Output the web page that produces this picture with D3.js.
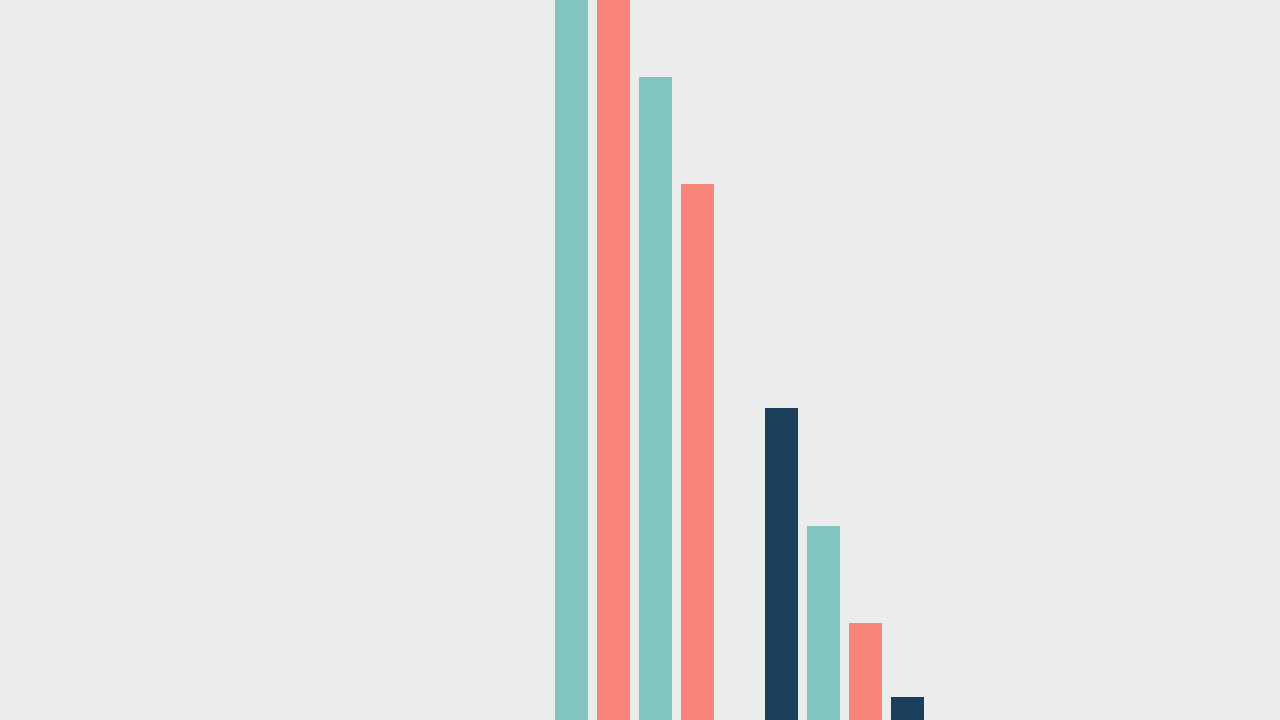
<!DOCTYPE html>
<html>
<head>
<meta charset="utf-8">
<script src="https://cdn.jsdelivr.net/npm/d3@7"></script>
<style>
html,body{margin:0;padding:0;background:#ebedec;overflow:hidden;}
svg{display:block;}
</style>
</head>
<body>
<svg id="chart" width="1280" height="720"></svg>
<script>
// Data (arbitrary units; first two bars run off the top)
const categories = ["A","B","C","D","E","F","G","H","I"];
const values = [770, 770, 643, 536, 0, 312, 194, 97, 23];
const series = ["teal","salmon","teal","salmon","navy","navy","teal","salmon","navy"];
const palette = {teal:"#82c4c0", salmon:"#f8847a", navy:"#1b3e5a"};

const W = 1280, H = 720;
const svg = d3.select("#chart");
svg.append("rect").attr("width", W).attr("height", H).attr("fill", "#ebedec");

const x = d3.scaleBand()
  .domain(categories)
  .range([555, 924])
  .paddingInner(9/42)
  .paddingOuter(0);

const y = d3.scaleLinear()
  .domain([0, 720])
  .range([H, 0]);

svg.append("g")
  .selectAll("rect")
  .data(categories)
  .join("rect")
  .attr("x", d => x(d))
  .attr("width", x.bandwidth())
  .attr("y", (d, i) => y(values[i]))
  .attr("height", (d, i) => y(0) - y(values[i]))
  .attr("fill", (d, i) => palette[series[i]]);
</script>
</body>
</html>
